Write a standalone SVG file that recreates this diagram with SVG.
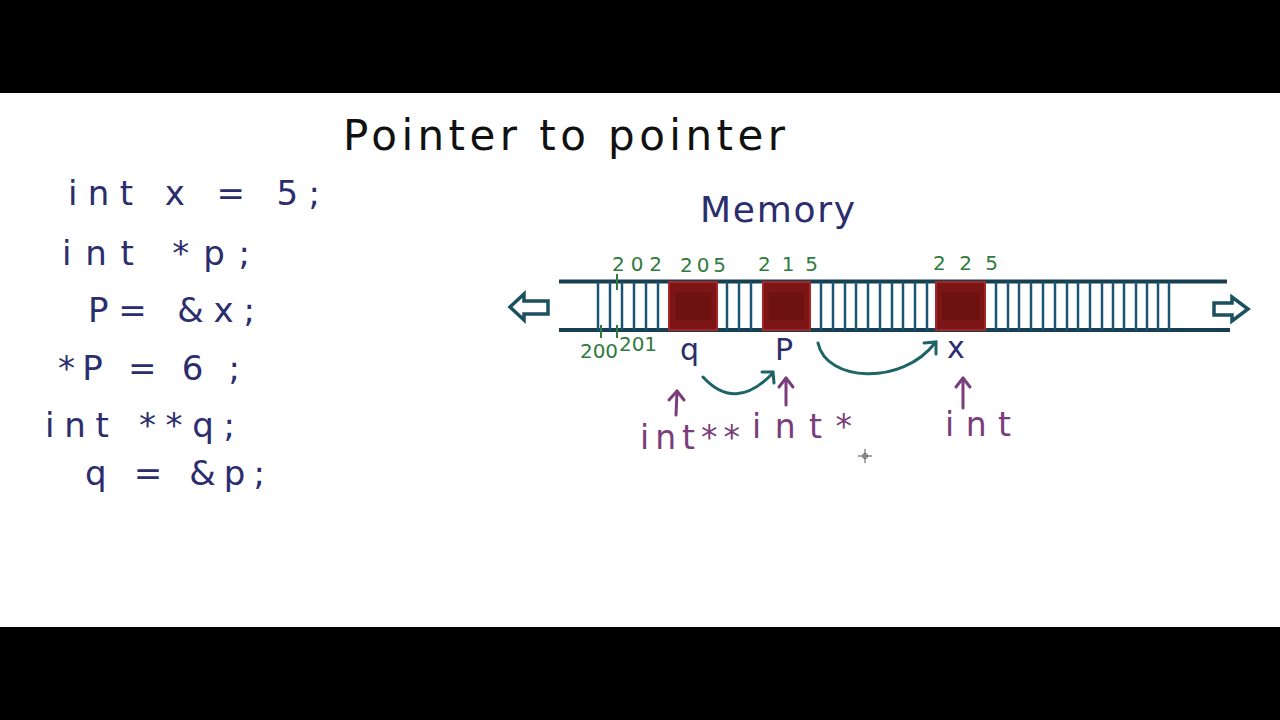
<svg xmlns="http://www.w3.org/2000/svg" width="1280" height="720" viewBox="0 0 1280 720">
<defs>
<style>
.bar{fill:#000}
.code{font-family:"DejaVu Sans","Liberation Sans",sans-serif;font-size:34px;fill:#2b2d6e}
.mem{font-family:"DejaVu Sans","Liberation Sans",sans-serif;font-size:36px;fill:#2b2d6e}
.title{font-family:"DejaVu Sans","Liberation Sans",sans-serif;font-size:42px;fill:#111}
.addr{font-family:"DejaVu Sans","Liberation Sans",sans-serif;font-size:20px;fill:#2f7a40}
.var{font-family:"DejaVu Sans","Liberation Sans",sans-serif;font-size:30px;fill:#2b2d6e}
.type{font-family:"DejaVu Sans","Liberation Sans",sans-serif;font-size:33px;fill:#7a3d7c}
.hline{stroke:#173f52;stroke-width:4}
.vline{stroke:#1b5573;stroke-width:2.5}
.cell{fill:#7c1515;stroke:#a52626;stroke-width:2}
.cellin{fill:#5e0e0e;opacity:0.45}
.blk{fill:#fff;stroke:#1b5060;stroke-width:3.5;stroke-linejoin:miter}
.curve{fill:none;stroke:#1d6468;stroke-width:3;stroke-linecap:round}
.parr{fill:none;stroke:#7a3d7c;stroke-width:3;stroke-linecap:round;stroke-linejoin:round}
.tick{stroke:#2f7a40;stroke-width:2}
</style>
</defs>
<rect x="0" y="0" width="1280" height="720" fill="#fff"/>
<rect class="bar" x="0" y="0" width="1280" height="93"/>
<rect class="bar" x="0" y="627" width="1280" height="93"/>

<g id="title"><text class="title" x="343" y="150" textLength="442" lengthAdjust="spacing">Pointer to pointer</text></g>

<g id="code">
<text class="code" x="68" y="205" textLength="252" lengthAdjust="spacing">int  x = 5;</text>
<text class="code" x="62" y="265" textLength="188" lengthAdjust="spacing">int *p;</text>
<text class="code" x="88" y="322" textLength="167" lengthAdjust="spacing">P= &amp;x;</text>
<text class="code" x="58" y="380" textLength="182" lengthAdjust="spacing">*P = 6 ;</text>
<text class="code" x="45" y="437" textLength="190" lengthAdjust="spacing">int **q;</text>
<text class="code" x="85" y="485" textLength="180" lengthAdjust="spacing">q = &amp;p;</text>
</g>

<g id="memory-label"><text class="mem" x="700" y="222" textLength="155" lengthAdjust="spacing">Memory</text></g>

<g id="memory">
<line class="hline" x1="559" y1="281.5" x2="1227" y2="281.5"/>
<line class="hline" x1="559" y1="330" x2="1230" y2="330"/>
<g class="vline">
<line x1="598" y1="282" x2="598" y2="330"/>
<line x1="610" y1="282" x2="610" y2="330"/>
<line x1="622" y1="282" x2="622" y2="330"/>
<line x1="634" y1="282" x2="634" y2="330"/>
<line x1="646" y1="282" x2="646" y2="330"/>
<line x1="658" y1="282" x2="658" y2="330"/>
<line x1="727" y1="282" x2="727" y2="330"/>
<line x1="739" y1="282" x2="739" y2="330"/>
<line x1="751" y1="282" x2="751" y2="330"/>
<line x1="821" y1="282" x2="821" y2="330"/>
<line x1="833" y1="282" x2="833" y2="330"/>
<line x1="845" y1="282" x2="845" y2="330"/>
<line x1="856" y1="282" x2="856" y2="330"/>
<line x1="868" y1="282" x2="868" y2="330"/>
<line x1="880" y1="282" x2="880" y2="330"/>
<line x1="892" y1="282" x2="892" y2="330"/>
<line x1="903" y1="282" x2="903" y2="330"/>
<line x1="915" y1="282" x2="915" y2="330"/>
<line x1="927" y1="282" x2="927" y2="330"/>
<line x1="996" y1="282" x2="996" y2="330"/>
<line x1="1008" y1="282" x2="1008" y2="330"/>
<line x1="1019" y1="282" x2="1019" y2="330"/>
<line x1="1031" y1="282" x2="1031" y2="330"/>
<line x1="1043" y1="282" x2="1043" y2="330"/>
<line x1="1055" y1="282" x2="1055" y2="330"/>
<line x1="1067" y1="282" x2="1067" y2="330"/>
<line x1="1078" y1="282" x2="1078" y2="330"/>
<line x1="1090" y1="282" x2="1090" y2="330"/>
<line x1="1102" y1="282" x2="1102" y2="330"/>
<line x1="1113" y1="282" x2="1113" y2="330"/>
<line x1="1124" y1="282" x2="1124" y2="330"/>
<line x1="1136" y1="282" x2="1136" y2="330"/>
<line x1="1147" y1="282" x2="1147" y2="330"/>
<line x1="1158" y1="282" x2="1158" y2="330"/>
<line x1="1169" y1="282" x2="1169" y2="330"/>
</g>
</g>

<g id="cell-q"><rect class="cell" x="669" y="282" width="48" height="48"/><rect class="cellin" x="675" y="292" width="36" height="28"/></g>
<g id="cell-p"><rect class="cell" x="763" y="282" width="47" height="48"/><rect class="cellin" x="769" y="292" width="35" height="28"/></g>
<g id="cell-x"><rect class="cell" x="936" y="282" width="49" height="48"/><rect class="cellin" x="942" y="292" width="37" height="28"/></g>

<g id="arrow-left"><polygon class="blk" points="510,307 524,294 524,301 548,301 548,314 524,314 524,320"/></g>
<g id="arrow-right"><polygon class="blk" points="1214,303 1232,303 1232,297 1248,309 1232,321 1232,315 1214,315"/></g>

<g id="addresses">
<text class="addr" x="612" y="271" textLength="50" lengthAdjust="spacing">202</text>
<text class="addr" x="680" y="272" textLength="46" lengthAdjust="spacing">205</text>
<text class="addr" x="758" y="271" textLength="60" lengthAdjust="spacing">215</text>
<text class="addr" x="933" y="270" textLength="65" lengthAdjust="spacing">225</text>
<text class="addr" x="580" y="358" textLength="38" lengthAdjust="spacing">200</text>
<text class="addr" x="619" y="351" textLength="38" lengthAdjust="spacing">201</text>
<line class="tick" x1="617" y1="274" x2="617" y2="290"/>
<line class="tick" x1="601" y1="325" x2="601" y2="338"/>
<line class="tick" x1="617" y1="325" x2="617" y2="338"/>
</g>

<g id="var-labels">
<text class="var" x="680" y="360">q</text>
<text class="var" x="775" y="360">P</text>
<text class="var" x="947" y="358">x</text>
</g>

<g id="connectors">
<path class="curve" d="M703 377 Q 735 412 772 374"/>
<polyline class="curve" points="762,372 773,372 774,383"/>
<path class="curve" d="M818 343 C 826 382, 902 386, 935 343"/>
<polyline class="curve" points="924,343 936,342 936,354"/>
<g class="parr">
<line x1="676" y1="415" x2="677" y2="391"/><polyline points="669,400 677,391 684,400"/>
<line x1="786" y1="405" x2="786" y2="378"/><polyline points="779,387 786,378 793,387"/>
<line x1="963" y1="408" x2="963" y2="378"/><polyline points="956,387 963,378 970,387"/>
</g>
</g>

<g id="types">
<text class="type" x="640" y="449" textLength="100" lengthAdjust="spacing">int**</text>
<text class="type" x="752" y="438" textLength="100" lengthAdjust="spacing">int*</text>
<text class="type" x="945" y="436" textLength="66" lengthAdjust="spacing">int</text>
</g>

<g id="cursor" stroke="#555" stroke-width="1" fill="none">
<line x1="858" y1="456" x2="872" y2="456"/><line x1="865" y1="449" x2="865" y2="463"/><circle cx="865" cy="456" r="2.5"/>
</g>
</svg>
